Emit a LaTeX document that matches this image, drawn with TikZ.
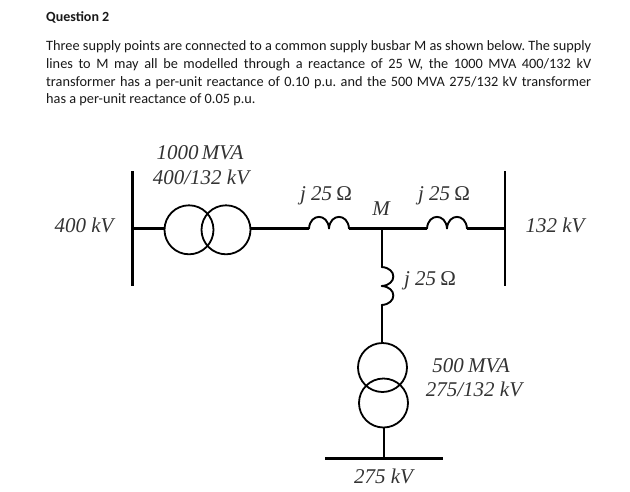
\documentclass[tikz,border=0pt]{standalone}
\usepackage{fontspec}
\usetikzlibrary{calc}
\setmainfont{Carlito}
\newfontfamily\lab{Liberation Serif}
\newcommand{\ohm}{{\upshape Ω}}
\frenchspacing
\begin{document}
\begin{tikzpicture}[x=1pt,y=-1pt,
  wire/.style={line width=2.4pt},
  bus/.style={line width=2.6pt},
  coil/.style={line width=1.9pt,line cap=round,line join=round},
  winding/.style={circle,draw,line width=1.8pt,minimum size=49pt,inner sep=0pt,outer sep=0pt},
  elabel/.style={font=\lab\itshape\fontsize{21}{24}\selectfont,text=black!80,inner sep=0pt,anchor=center},
  body/.style={font=\fontsize{14.3}{17}\selectfont,inner sep=0pt,anchor=base west,text=black!90}]
\useasboundingbox (0,0) rectangle (630,491);
\fill[white] (0,0) rectangle (630,491);
% text
\node[body,font=\bfseries\fontsize{14}{17}\selectfont] (q) at (46,21) {Question 2};
\node[body] (l1) at (46,50.5) {\makebox[545pt][s]{Three supply points are connected to a common supply busbar M as shown below. The supply}};
\node[body] (l2) at (46,68) {\makebox[545pt][s]{lines to M may all be modelled through a reactance of 25 W, the 1000 MVA 400/132 kV}};
\node[body] (l3) at (46,86) {\makebox[545pt][s]{transformer has a per-unit reactance of 0.10 p.u. and the 500 MVA 275/132 kV transformer}};
\node[body] (l4) at (46,103.5) {has a per-unit reactance of 0.05 p.u.};
% coordinates
\coordinate (b1t) at (132.5,171); \coordinate (b1b) at (132.5,285.5);
\coordinate (b1) at (132.5,228.5);
\coordinate (b2t) at (505,171); \coordinate (b2b) at (505,285.5);
\coordinate (b2) at (505,228.5);
\coordinate (b3l) at (325,458.7); \coordinate (b3r) at (443,458.7);
\coordinate (b3) at (384,458.7);
\coordinate (m) at (381.7,228.5);
\coordinate (c1a) at (309,228.5); \coordinate (c1b) at (349,228.5);
\coordinate (c2a) at (427,228.5); \coordinate (c2b) at (467,228.5);
\coordinate (c3a) at (381.7,267); \coordinate (c3b) at (381.7,305);
% windings
\node[winding] (t1a) at (189,229.8) {};
\node[winding] (t1b) at (226,229.8) {};
\node[winding] (t2a) at (382.5,367.5) {};
\node[winding] (t2b) at (383.5,403) {};
% buses
\draw[bus] (b1t) -- (b1b);
\draw[bus] (b2t) -- (b2b);
\draw[bus] (b3l) -- (b3r);
% wires
\draw[wire] (b1) -- (b1 -| t1a.west);
\draw[wire] (c1a -| t1b.east) -- (c1a) (c1b) -- (c2a) (c2b) -- (b2);
\draw[wire] (m) -- (c3a) (c3b) -- (c3b |- t2a.north);
\draw[wire] (b3 |- t2b.south) -- (b3);
% inductors
\foreach \a/\b in {c1a/c1b,c2a/c2b}{
  \draw[coil] (\a) .. controls ($(\a)+(1,-15.5)$) and ($(\a)+(19,-15.5)$) .. ($(\a)!.5!(\b)$)
     .. controls ($(\a)+(21,-15.5)$) and ($(\b)+(-1,-15.5)$) .. (\b);
}
\draw[coil] (c3a) .. controls ($(c3a)+(15.5,1)$) and ($(c3a)+(15.5,18)$) .. ($(c3a)!.5!(c3b)$)
     .. controls ($(c3a)+(15.5,20)$) and ($(c3b)+(15.5,-1)$) .. (c3b);
% labels
\node[elabel] (n1) at (200,153) {1000 \kern-2pt MVA};
\node[elabel] (n2) at (201,177) {400/132 kV};
\node[elabel] (n3) at (84,225) {400 kV};
\node[elabel] (n4) at (326,196) {j 25 \kern-1pt\ohm};
\node[elabel] (n5) at (381,209) {M};
\node[elabel] (n6) at (444,196) {j 25 \kern-1pt\ohm};
\node[elabel] (n7) at (555,225) {132 kV};
\node[elabel] (n8) at (430,281) {j 25 \kern-1pt\ohm};
\node[elabel] (n9) at (471,365.5) {500 \kern-1pt MVA};
\node[elabel] (n10) at (474,389) {275/132 kV};
\node[elabel] (n11) at (383.5,476) {275 kV};
\end{tikzpicture}
\end{document}
